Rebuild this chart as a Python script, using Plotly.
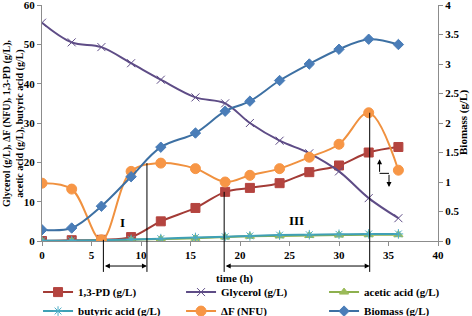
import plotly.graph_objects as go

# ---------------- data ----------------
time_h = [0, 3, 6, 9, 12, 15.5, 18.5, 21, 24, 27, 30, 33, 36]
pd13 = [0, 0.2, 0.3, 1.0, 5.0, 8.4, 12.5, 13.5, 14.7, 17.5, 19.2, 22.5, 23.9]
glycerol = [55.5, 50.5, 49.3, 45.2, 41.0, 36.5, 35.0, 30.0, 25.5, 22.3, 17.7, 10.9, 5.8]
acetic = [0, 0, 0.1, 0.3, 0.5, 0.7, 1.0, 1.2, 1.3, 1.4, 1.5, 1.6, 1.6]
butyric = [0.1, 0.1, 0.2, 0.4, 0.6, 0.9, 1.1, 1.3, 1.5, 1.6, 1.7, 1.8, 1.8]
delta_f = [14.7, 13.2, 0.3, 17.7, 19.8, 18.4, 15.0, 16.7, 18.4, 21.3, 24.6, 32.6, 18.0]
biomass = [0.19, 0.22, 0.59, 1.09, 1.59, 1.83, 2.2, 2.37, 2.72, 3.0, 3.25, 3.42, 3.33]

x_ticks = [0, 5, 10, 15, 20, 25, 30, 35, 40]
left_ticks = [0, 10, 20, 30, 40, 50, 60]
right_ticks = [0, 0.5, 1, 1.5, 2, 2.5, 3, 3.5, 4]

# phase markers (time, value where the vertical line starts)
phase_t = [6.2, 10.6, 18.4, 33.1]
phase_top = [0.3, 19.8, 12.5, 32.6]
phase_labels = ["I", "III"]
phase_label_t = [8.1, 25.7]
phase_label_v = [4.8, 5.3]

FONT = "Liberation Serif"

fig = go.Figure()

def add(name, y, line_c, marker_c, symbol, size, yaxis="y", mline=None):
    fig.add_trace(go.Scatter(
        x=time_h, y=y, name="<b>%s</b>" % name, yaxis=yaxis, mode="lines+markers",
        line=dict(color=line_c, width=2, shape="spline", smoothing=1.0),
        marker=dict(color=marker_c, symbol=symbol, size=size,
                    line=dict(color=mline or marker_c, width=1)),
    ))

add("1,3-PD (g/L)", pd13, "#A33B36", "#B4443F", "square", 9)
add("Glycerol (g/L)", glycerol, "#5E4C86", "#7A6AA0", "x-thin", 8, mline="#5E4C86")
add("acetic acid (g/L)", acetic, "#8DB04E", "#9BBB59", "triangle-up", 8)
add("butyric acid (g/L)", butyric, "#3FA0B5", "#4BACC6", "asterisk", 8, mline="#4BACC6")
add("\u0394F (NFU)", delta_f, "#F0913F", "#F79646", "circle", 10)
add("Biomass (g/L)", biomass, "#3D70A3", "#4A7DB8", "diamond", 8, yaxis="y2")

shapes = []
annotations = []
bottom = -0.131
arrow_y = -0.106
for t, top in zip(phase_t, phase_top):
    shapes.append(dict(type="line", xref="x", yref="y", x0=t, x1=t, y0=top, y1=0,
                       line=dict(color="black", width=1)))
    shapes.append(dict(type="line", xref="x", yref="paper", x0=t, x1=t, y0=0, y1=bottom,
                       line=dict(color="black", width=1)))

# double arrows between phase lines
for a, b in [(phase_t[0], phase_t[1]), (phase_t[2], phase_t[3])]:
    annotations.append(dict(x=b, y=arrow_y, xref="x", yref="paper", ax=a, ay=0,
                            axref="x", ayref="pixel", showarrow=True, arrowhead=2,
                            startarrowhead=2, arrowside="end+start", arrowsize=1,
                            startarrowsize=1, arrowwidth=1, arrowcolor="black", text=""))

for lab, t, v in zip(phase_labels, phase_label_t, phase_label_v):
    annotations.append(dict(x=t, y=v, xref="x", yref="y", text="<b>%s</b>" % lab,
                            showarrow=False, font=dict(family=FONT, size=13, color="black")))

# step arrow near the end
annotations.append(dict(x=34.1, y=20.8, xref="x", yref="y", ax=34.1, ay=17.2,
                        axref="x", ayref="y", showarrow=True, arrowhead=2, arrowsize=1,
                        arrowwidth=1, arrowcolor="black", text=""))
shapes.append(dict(type="line", xref="x", yref="y", x0=34.1, x1=35.05, y0=17.2, y1=17.2,
                   line=dict(color="black", width=1)))
annotations.append(dict(x=35.05, y=13.7, xref="x", yref="y", ax=35.05, ay=17.2,
                        axref="x", ayref="y", showarrow=True, arrowhead=2, arrowsize=1,
                        arrowwidth=1, arrowcolor="black", text=""))

# axis titles
annotations.append(dict(x=0.487, y=-0.157, xref="paper", yref="paper", text="<b>time (h)</b>",
                        xanchor="center", yanchor="middle",
                        showarrow=False, font=dict(family=FONT, size=11, color="black")))
annotations.append(dict(x=(463 - 42) / 396.0, y=0.5, xref="paper", yref="paper",
                        text="<b>Biomass (g/L)</b>",
                        textangle=-90, showarrow=False, xanchor="center", yanchor="middle",
                        font=dict(family=FONT, size=11, color="black")))
annotations.append(dict(x=(13 - 42) / 396.0, y=0.5, xref="paper", yref="paper",
                        text="<b>Glycerol (g/L), \u0394F (NFU), 1,3-PD (g/L),<br>acetic acid (g/L), butyric acid (g/L)</b>",
                        textangle=-90, showarrow=False, xanchor="center", yanchor="middle",
                        font=dict(family=FONT, size=10, color="black")))

axis_common = dict(showgrid=False, zeroline=False, showline=True, linecolor="#8C8C8C",
                   linewidth=1, ticks="outside", ticklen=4, tickcolor="#8C8C8C",
                   ticklabeloverflow="allow",
                   tickfont=dict(family=FONT, size=11, color="black"))

fig.update_layout(
    width=472, height=316,
    margin=dict(l=42, r=34, t=5, b=75, autoexpand=False),
    paper_bgcolor="white", plot_bgcolor="white",
    font=dict(family=FONT, size=11, color="black"),
    xaxis=dict(range=[0, 40], tickvals=x_ticks, ticktext=["<b>%g</b>" % v for v in x_ticks],
               **axis_common),
    yaxis=dict(range=[0, 60], tickvals=left_ticks, ticktext=["<b>%g</b>" % v for v in left_ticks],
               **axis_common),
    yaxis2=dict(range=[0, 4], overlaying="y", side="right", tickvals=right_ticks,
                ticktext=["<b>%g</b>" % v for v in right_ticks],
                **axis_common),
    legend=dict(orientation="h", x=-0.01, y=-0.155, xanchor="left", yanchor="top",
                entrywidth=98, entrywidthmode="pixels", traceorder="normal",
                font=dict(family=FONT, size=11, color="black"), tracegroupgap=0,
                bgcolor="rgba(0,0,0,0)"),
    shapes=shapes,
    annotations=annotations,
    showlegend=True,
)

fig.write_html("out.html", config={"displayModeBar": False},
               post_script="document.body.style.margin='0';document.body.style.overflow='hidden';")
